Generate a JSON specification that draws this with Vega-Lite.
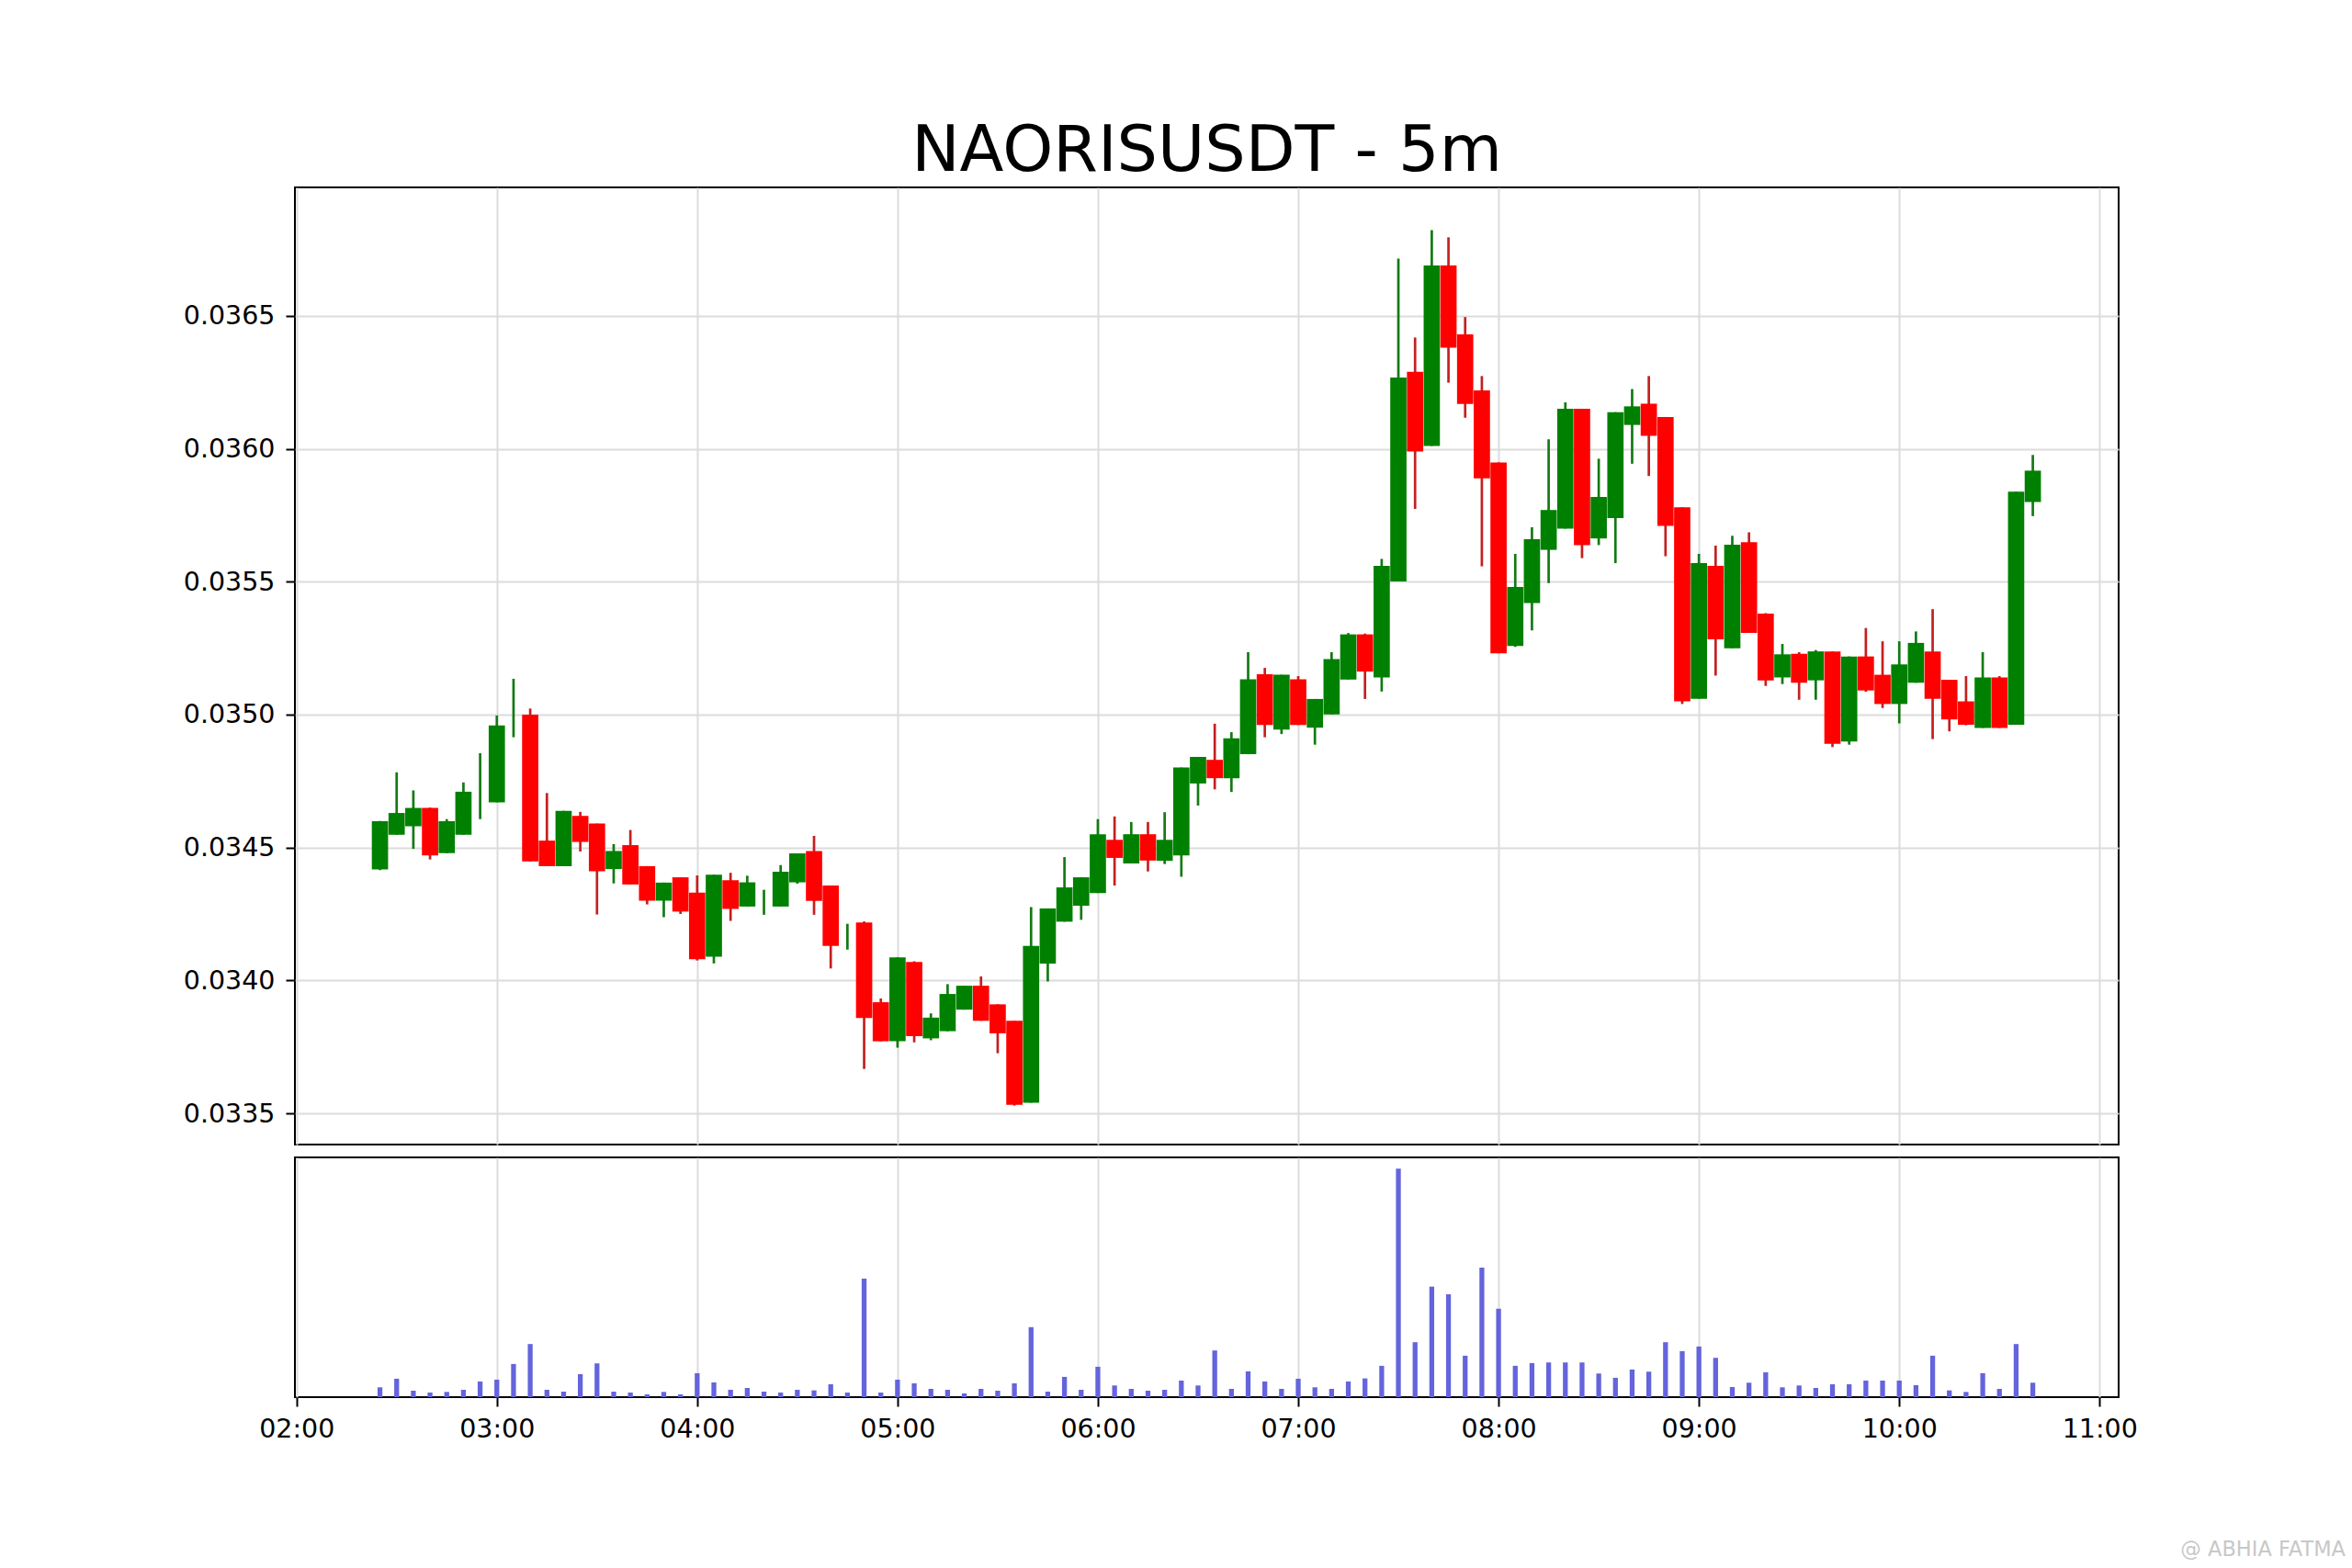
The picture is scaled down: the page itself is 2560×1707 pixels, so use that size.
{
  "$schema": "https://vega.github.io/schema/vega-lite/v6.json",
  "background": "white",
  "padding": {"left": 198, "top": 129, "right": 3, "bottom": 3},
  "config": {
    "font": "DejaVu Sans",
    "view": {"stroke": "black", "strokeWidth": 2},
    "axis": {"domain": false, "tickColor": "black", "tickWidth": 2, "tickSize": 10, "labelFontSize": 28.5, "labelColor": "black", "labelFont": "DejaVu Sans", "gridColor": "#dcdcdc", "gridWidth": 2}
  },
  "data": {"values": [
    {"t":"2024-01-01T02:25:00Z","o":0.034418,"h":0.034600,"l":0.034415,"c":0.034599,"v":32},
    {"t":"2024-01-01T02:30:00Z","o":0.034548,"h":0.034783,"l":0.034548,"c":0.034630,"v":60},
    {"t":"2024-01-01T02:35:00Z","o":0.034580,"h":0.034715,"l":0.034495,"c":0.034649,"v":21},
    {"t":"2024-01-01T02:40:00Z","o":0.034649,"h":0.034650,"l":0.034455,"c":0.034470,"v":15},
    {"t":"2024-01-01T02:45:00Z","o":0.034479,"h":0.034607,"l":0.034479,"c":0.034599,"v":17},
    {"t":"2024-01-01T02:50:00Z","o":0.034548,"h":0.034745,"l":0.034548,"c":0.034710,"v":24},
    {"t":"2024-01-01T02:55:00Z","o":0.034710,"h":0.034855,"l":0.034607,"c":0.034710,"v":51},
    {"t":"2024-01-01T03:00:00Z","o":0.034670,"h":0.034997,"l":0.034670,"c":0.034959,"v":57},
    {"t":"2024-01-01T03:05:00Z","o":0.034960,"h":0.035135,"l":0.034915,"c":0.034960,"v":108},
    {"t":"2024-01-01T03:10:00Z","o":0.035000,"h":0.035023,"l":0.034448,"c":0.034448,"v":173},
    {"t":"2024-01-01T03:15:00Z","o":0.034526,"h":0.034705,"l":0.034430,"c":0.034430,"v":24},
    {"t":"2024-01-01T03:20:00Z","o":0.034430,"h":0.034638,"l":0.034430,"c":0.034638,"v":18},
    {"t":"2024-01-01T03:25:00Z","o":0.034619,"h":0.034634,"l":0.034485,"c":0.034521,"v":75},
    {"t":"2024-01-01T03:30:00Z","o":0.034590,"h":0.034590,"l":0.034248,"c":0.034411,"v":110},
    {"t":"2024-01-01T03:35:00Z","o":0.034419,"h":0.034513,"l":0.034365,"c":0.034487,"v":18},
    {"t":"2024-01-01T03:40:00Z","o":0.034509,"h":0.034566,"l":0.034361,"c":0.034361,"v":15},
    {"t":"2024-01-01T03:45:00Z","o":0.034430,"h":0.034430,"l":0.034286,"c":0.034300,"v":9},
    {"t":"2024-01-01T03:50:00Z","o":0.034300,"h":0.034368,"l":0.034238,"c":0.034368,"v":17},
    {"t":"2024-01-01T03:55:00Z","o":0.034388,"h":0.034388,"l":0.034250,"c":0.034259,"v":9},
    {"t":"2024-01-01T04:00:00Z","o":0.034330,"h":0.034395,"l":0.034075,"c":0.034080,"v":78},
    {"t":"2024-01-01T04:05:00Z","o":0.034089,"h":0.034398,"l":0.034064,"c":0.034398,"v":48},
    {"t":"2024-01-01T04:10:00Z","o":0.034377,"h":0.034405,"l":0.034224,"c":0.034269,"v":24},
    {"t":"2024-01-01T04:15:00Z","o":0.034278,"h":0.034394,"l":0.034278,"c":0.034369,"v":30},
    {"t":"2024-01-01T04:20:00Z","o":0.034300,"h":0.034341,"l":0.034247,"c":0.034300,"v":18},
    {"t":"2024-01-01T04:25:00Z","o":0.034278,"h":0.034434,"l":0.034278,"c":0.034409,"v":15},
    {"t":"2024-01-01T04:30:00Z","o":0.034369,"h":0.034478,"l":0.034364,"c":0.034478,"v":24},
    {"t":"2024-01-01T04:35:00Z","o":0.034487,"h":0.034544,"l":0.034247,"c":0.034299,"v":22},
    {"t":"2024-01-01T04:40:00Z","o":0.034357,"h":0.034357,"l":0.034045,"c":0.034130,"v":42},
    {"t":"2024-01-01T04:45:00Z","o":0.034160,"h":0.034213,"l":0.034116,"c":0.034160,"v":15},
    {"t":"2024-01-01T04:50:00Z","o":0.034218,"h":0.034222,"l":0.033667,"c":0.033859,"v":386},
    {"t":"2024-01-01T04:55:00Z","o":0.033918,"h":0.033932,"l":0.033771,"c":0.033771,"v":15},
    {"t":"2024-01-01T05:00:00Z","o":0.033771,"h":0.034087,"l":0.033747,"c":0.034087,"v":57},
    {"t":"2024-01-01T05:05:00Z","o":0.034069,"h":0.034072,"l":0.033767,"c":0.033790,"v":45},
    {"t":"2024-01-01T05:10:00Z","o":0.033782,"h":0.033876,"l":0.033775,"c":0.033860,"v":27},
    {"t":"2024-01-01T05:15:00Z","o":0.033809,"h":0.033986,"l":0.033809,"c":0.033949,"v":24},
    {"t":"2024-01-01T05:20:00Z","o":0.033890,"h":0.033980,"l":0.033890,"c":0.033980,"v":12},
    {"t":"2024-01-01T05:25:00Z","o":0.033980,"h":0.034015,"l":0.033848,"c":0.033848,"v":27},
    {"t":"2024-01-01T05:30:00Z","o":0.033910,"h":0.033910,"l":0.033726,"c":0.033801,"v":21},
    {"t":"2024-01-01T05:35:00Z","o":0.033848,"h":0.033848,"l":0.033529,"c":0.033532,"v":45},
    {"t":"2024-01-01T05:40:00Z","o":0.033540,"h":0.034276,"l":0.033540,"c":0.034130,"v":228},
    {"t":"2024-01-01T05:45:00Z","o":0.034063,"h":0.034271,"l":0.033996,"c":0.034271,"v":18},
    {"t":"2024-01-01T05:50:00Z","o":0.034221,"h":0.034464,"l":0.034221,"c":0.034350,"v":66},
    {"t":"2024-01-01T05:55:00Z","o":0.034281,"h":0.034388,"l":0.034228,"c":0.034388,"v":24},
    {"t":"2024-01-01T06:00:00Z","o":0.034329,"h":0.034607,"l":0.034329,"c":0.034550,"v":99},
    {"t":"2024-01-01T06:05:00Z","o":0.034529,"h":0.034617,"l":0.034357,"c":0.034461,"v":38},
    {"t":"2024-01-01T06:10:00Z","o":0.034440,"h":0.034596,"l":0.034440,"c":0.034550,"v":27},
    {"t":"2024-01-01T06:15:00Z","o":0.034550,"h":0.034596,"l":0.034410,"c":0.034451,"v":21},
    {"t":"2024-01-01T06:20:00Z","o":0.034450,"h":0.034633,"l":0.034438,"c":0.034529,"v":24},
    {"t":"2024-01-01T06:25:00Z","o":0.034470,"h":0.034801,"l":0.034390,"c":0.034801,"v":54},
    {"t":"2024-01-01T06:30:00Z","o":0.034741,"h":0.034841,"l":0.034658,"c":0.034841,"v":38},
    {"t":"2024-01-01T06:35:00Z","o":0.034830,"h":0.034966,"l":0.034719,"c":0.034761,"v":152},
    {"t":"2024-01-01T06:40:00Z","o":0.034761,"h":0.034934,"l":0.034709,"c":0.034911,"v":27},
    {"t":"2024-01-01T06:45:00Z","o":0.034851,"h":0.035235,"l":0.034851,"c":0.035133,"v":84},
    {"t":"2024-01-01T06:50:00Z","o":0.035152,"h":0.035176,"l":0.034915,"c":0.034961,"v":51},
    {"t":"2024-01-01T06:55:00Z","o":0.034944,"h":0.035150,"l":0.034927,"c":0.035150,"v":27},
    {"t":"2024-01-01T07:00:00Z","o":0.035133,"h":0.035145,"l":0.034961,"c":0.034961,"v":60},
    {"t":"2024-01-01T07:05:00Z","o":0.034951,"h":0.035059,"l":0.034887,"c":0.035059,"v":32},
    {"t":"2024-01-01T07:10:00Z","o":0.035001,"h":0.035235,"l":0.035001,"c":0.035209,"v":27},
    {"t":"2024-01-01T07:15:00Z","o":0.035132,"h":0.035307,"l":0.035132,"c":0.035302,"v":51},
    {"t":"2024-01-01T07:20:00Z","o":0.035302,"h":0.035305,"l":0.035059,"c":0.035162,"v":61},
    {"t":"2024-01-01T07:25:00Z","o":0.035140,"h":0.035586,"l":0.035087,"c":0.035560,"v":102},
    {"t":"2024-01-01T07:30:00Z","o":0.035501,"h":0.036716,"l":0.035501,"c":0.036268,"v":744},
    {"t":"2024-01-01T07:35:00Z","o":0.036290,"h":0.036419,"l":0.035774,"c":0.035990,"v":179},
    {"t":"2024-01-01T07:40:00Z","o":0.036011,"h":0.036823,"l":0.036011,"c":0.036690,"v":360},
    {"t":"2024-01-01T07:45:00Z","o":0.036690,"h":0.036796,"l":0.036249,"c":0.036381,"v":335},
    {"t":"2024-01-01T07:50:00Z","o":0.036431,"h":0.036496,"l":0.036117,"c":0.036169,"v":135},
    {"t":"2024-01-01T07:55:00Z","o":0.036220,"h":0.036274,"l":0.035558,"c":0.035889,"v":422},
    {"t":"2024-01-01T08:00:00Z","o":0.035949,"h":0.035949,"l":0.035231,"c":0.035231,"v":288},
    {"t":"2024-01-01T08:05:00Z","o":0.035258,"h":0.035605,"l":0.035255,"c":0.035480,"v":102},
    {"t":"2024-01-01T08:10:00Z","o":0.035420,"h":0.035705,"l":0.035317,"c":0.035660,"v":111},
    {"t":"2024-01-01T08:15:00Z","o":0.035620,"h":0.036036,"l":0.035495,"c":0.035770,"v":113},
    {"t":"2024-01-01T08:20:00Z","o":0.035700,"h":0.036175,"l":0.035700,"c":0.036151,"v":113},
    {"t":"2024-01-01T08:25:00Z","o":0.036151,"h":0.036151,"l":0.035589,"c":0.035638,"v":113},
    {"t":"2024-01-01T08:30:00Z","o":0.035663,"h":0.035963,"l":0.035638,"c":0.035819,"v":77},
    {"t":"2024-01-01T08:35:00Z","o":0.035740,"h":0.036138,"l":0.035570,"c":0.036138,"v":63},
    {"t":"2024-01-01T08:40:00Z","o":0.036090,"h":0.036225,"l":0.035944,"c":0.036160,"v":90},
    {"t":"2024-01-01T08:45:00Z","o":0.036170,"h":0.036274,"l":0.035898,"c":0.036049,"v":83},
    {"t":"2024-01-01T08:50:00Z","o":0.036120,"h":0.036120,"l":0.035596,"c":0.035710,"v":179},
    {"t":"2024-01-01T08:55:00Z","o":0.035780,"h":0.035780,"l":0.035040,"c":0.035050,"v":150},
    {"t":"2024-01-01T09:00:00Z","o":0.035060,"h":0.035605,"l":0.035060,"c":0.035570,"v":165},
    {"t":"2024-01-01T09:05:00Z","o":0.035560,"h":0.035636,"l":0.035147,"c":0.035283,"v":128},
    {"t":"2024-01-01T09:10:00Z","o":0.035250,"h":0.035673,"l":0.035250,"c":0.035639,"v":33},
    {"t":"2024-01-01T09:15:00Z","o":0.035649,"h":0.035686,"l":0.035308,"c":0.035308,"v":47},
    {"t":"2024-01-01T09:20:00Z","o":0.035380,"h":0.035382,"l":0.035108,"c":0.035129,"v":81},
    {"t":"2024-01-01T09:25:00Z","o":0.035140,"h":0.035266,"l":0.035115,"c":0.035227,"v":32},
    {"t":"2024-01-01T09:30:00Z","o":0.035229,"h":0.035235,"l":0.035056,"c":0.035120,"v":38},
    {"t":"2024-01-01T09:35:00Z","o":0.035129,"h":0.035243,"l":0.035056,"c":0.035238,"v":30},
    {"t":"2024-01-01T09:40:00Z","o":0.035238,"h":0.035238,"l":0.034878,"c":0.034890,"v":42},
    {"t":"2024-01-01T09:45:00Z","o":0.034899,"h":0.035219,"l":0.034887,"c":0.035219,"v":42},
    {"t":"2024-01-01T09:50:00Z","o":0.035219,"h":0.035326,"l":0.035086,"c":0.035091,"v":54},
    {"t":"2024-01-01T09:55:00Z","o":0.035150,"h":0.035276,"l":0.035025,"c":0.035040,"v":54},
    {"t":"2024-01-01T10:00:00Z","o":0.035040,"h":0.035276,"l":0.034967,"c":0.035189,"v":54},
    {"t":"2024-01-01T10:05:00Z","o":0.035120,"h":0.035313,"l":0.035120,"c":0.035270,"v":39},
    {"t":"2024-01-01T10:10:00Z","o":0.035238,"h":0.035397,"l":0.034908,"c":0.035060,"v":135},
    {"t":"2024-01-01T10:15:00Z","o":0.035131,"h":0.035131,"l":0.034937,"c":0.034982,"v":22},
    {"t":"2024-01-01T10:20:00Z","o":0.035050,"h":0.035145,"l":0.034960,"c":0.034962,"v":17},
    {"t":"2024-01-01T10:25:00Z","o":0.034950,"h":0.035235,"l":0.034950,"c":0.035140,"v":78},
    {"t":"2024-01-01T10:30:00Z","o":0.035140,"h":0.035145,"l":0.034950,"c":0.034950,"v":27},
    {"t":"2024-01-01T10:35:00Z","o":0.034962,"h":0.035839,"l":0.034962,"c":0.035839,"v":173},
    {"t":"2024-01-01T10:40:00Z","o":0.035800,"h":0.035977,"l":0.035747,"c":0.035918,"v":47}
  ]},
  "spacing": 12,
  "vconcat": [
    {
      "width": 1985,
      "height": 1042,
      "title": {"text": "NAORISUSDT - 5m", "fontSize": 70, "fontWeight": "normal", "color": "black", "font": "DejaVu Sans", "anchor": "middle", "frame": "group", "offset": 3},
      "encoding": {
        "x": {"field": "t", "type": "temporal",
              "scale": {"type": "utc", "domain": [1704074372000, 1704107142000], "nice": false, "padding": 0},
              "axis": {"title": null, "labels": false, "ticks": false, "grid": true, "labelFlush": false,
                       "values": [1704074400000, 1704078000000, 1704081600000, 1704085200000, 1704088800000, 1704092400000, 1704096000000, 1704099600000, 1704103200000, 1704106800000]}}
      },
      "layer": [
        {
          "mark": {"type": "rule", "strokeWidth": 2.7},
          "encoding": {
            "y": {"field": "l", "type": "quantitative", "scale": {"domain": [0.0333825, 0.0369838], "nice": false, "zero": false},
                  "axis": {"title": null, "values": [0.0335, 0.034, 0.0345, 0.035, 0.0355, 0.036, 0.0365], "format": ".4f", "labelPadding": 12, "grid": true}},
            "y2": {"field": "h"},
            "color": {"condition": {"test": "datum.c >= datum.o", "value": "#137a13"}, "value": "#c42020"}
          }
        },
        {
          "mark": {"type": "bar", "width": 17.7},
          "encoding": {
            "y": {"field": "o", "type": "quantitative"},
            "y2": {"field": "c"},
            "color": {"condition": {"test": "datum.c >= datum.o", "value": "#008000"}, "value": "#ff0000"}
          }
        }
      ]
    },
    {
      "width": 1985,
      "height": 261,
      "title": {"text": "@ ABHIA FATMA", "orient": "bottom", "anchor": "end", "frame": "group", "fontSize": 22.5, "fontWeight": "normal", "color": "#c8c8c8", "offset": 106, "dx": 247},
      "mark": {"type": "bar", "width": 5.3, "color": "#6464dc"},
      "encoding": {
        "x": {"field": "t", "type": "temporal",
              "scale": {"type": "utc", "domain": [1704074372000, 1704107142000], "nice": false, "padding": 0},
              "axis": {"title": null, "format": "%H:%M", "labelPadding": 10, "grid": true, "labelFlush": false,
                       "values": [1704074400000, 1704078000000, 1704081600000, 1704085200000, 1704088800000, 1704092400000, 1704096000000, 1704099600000, 1704103200000, 1704106800000]}},
        "y": {"field": "v", "type": "quantitative", "scale": {"domain": [0, 781], "nice": false}, "axis": null}
      }
    }
  ]
}
